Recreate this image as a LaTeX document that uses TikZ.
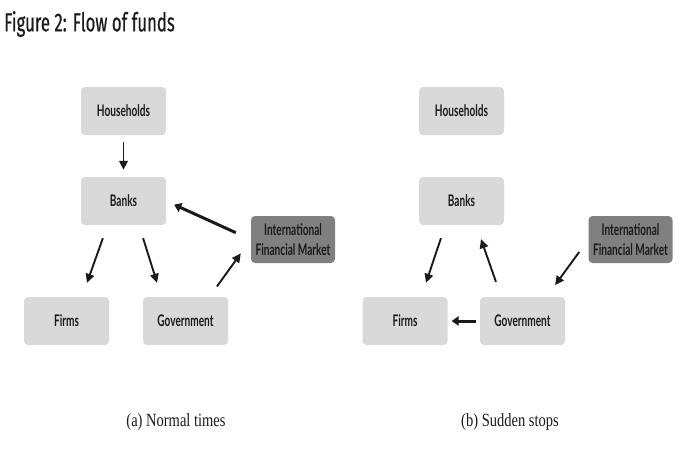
\documentclass[tikz,border=0pt]{standalone}
\usepackage{fontspec}
\usetikzlibrary{arrows.meta}
\newfontfamily\boxfont[FakeStretch=0.63]{Lato}
\newfontfamily\titlefont[FakeStretch=0.645, FakeBold=0.4]{Fira Sans}
\newfontfamily\capfont[FakeStretch=0.78]{Liberation Serif}
\definecolor{boxgray}{HTML}{D9D9D9}
\definecolor{darkgray}{HTML}{808080}
\definecolor{inkgray}{HTML}{1A1A1A}
\tikzset{
  box/.style={fill=boxgray, rounded corners=4pt, minimum width=85pt, minimum height=48pt,
    inner sep=2pt, align=center, text=inkgray, font=\boxfont\bfseries\fontsize{16}{20}\selectfont},
  darkbox/.style={box, fill=darkgray, minimum width=84pt, minimum height=47pt},
  flow/.style={-{Triangle[length=9pt,width=8.5pt]}, line width=1.9pt, inkgray},
  bigflow/.style={flow, line width=3pt, -{Triangle[length=7pt,width=9.5pt]}},
  subcap/.style={font=\capfont\fontsize{18.6}{20}\selectfont, text=inkgray}
}
\begin{document}
\begin{tikzpicture}[x=1pt, y=-1pt]
            \useasboundingbox (0,0) rectangle (696,464);
            % Titolo
            \node[anchor=west, inner sep=0pt, font=\titlefont\fontsize{26}{28}\selectfont, text=inkgray] (title) at (4,24) {Figure 2: Flow of funds};
            % (a) Normal times
            \node[box] (hh1) at (123.5,111) {Households};
            \node[box] (bk1) at (123.5,201) {Banks};
            \node[box] (fi1) at (66.5,321) {Firms};
            \node[box] (gv1) at (185.5,321) {Government};
            \node[darkbox] (ifm1) at (293,239.5) {International\\Financial Market};
            \draw[flow, shorten <=7pt, shorten >=7pt] (hh1.south) -- (bk1.north);
            \draw[bigflow, shorten <=16.5pt, shorten >=8.8pt] (ifm1.west) -- (bk1.east);
            \draw[flow, shorten <=13.8pt, shorten >=14.8pt] ([xshift=-16pt]bk1.south) -- ([xshift=15.5pt]fi1.north);
            \draw[flow, shorten <=13.6pt, shorten >=14.7pt] ([xshift=15.5pt]bk1.south) -- ([xshift=-24pt]gv1.north);
            \draw[flow, shorten <=12.8pt, shorten >=17.1pt] ([xshift=24pt]gv1.north) -- (ifm1.west);
            \node[subcap] (cap1) at (176,422) {(a) Normal times};
            % (b) Sudden stops
            \node[box] (hh2) at (461.5,111) {Households};
            \node[box] (bk2) at (461.5,201) {Banks};
            \node[box] (fi2) at (405,321) {Firms};
            \node[box] (gv2) at (522.5,321) {Government};
            \node[darkbox] (ifm2) at (630.5,239.5) {International\\Financial Market};
            \draw[flow, shorten <=13.7pt, shorten >=14.8pt] ([xshift=-16.2pt]bk2.south) -- ([xshift=16.3pt]fi2.north);
            \draw[flow, shorten <=15.9pt, shorten >=14.8pt] ([xshift=-21.3pt]gv2.north) -- ([xshift=14.6pt]bk2.south);
            \draw[flow, shorten <=15.4pt, shorten >=14.5pt] (ifm2.west) -- ([xshift=24pt]gv2.north);
            \draw[bigflow, shorten <=4pt, shorten >=4pt] (gv2.west) -- (fi2.east);
            \node[subcap] (cap2) at (510,422) {(b) Sudden stops};
        \end{tikzpicture}
\end{document}
